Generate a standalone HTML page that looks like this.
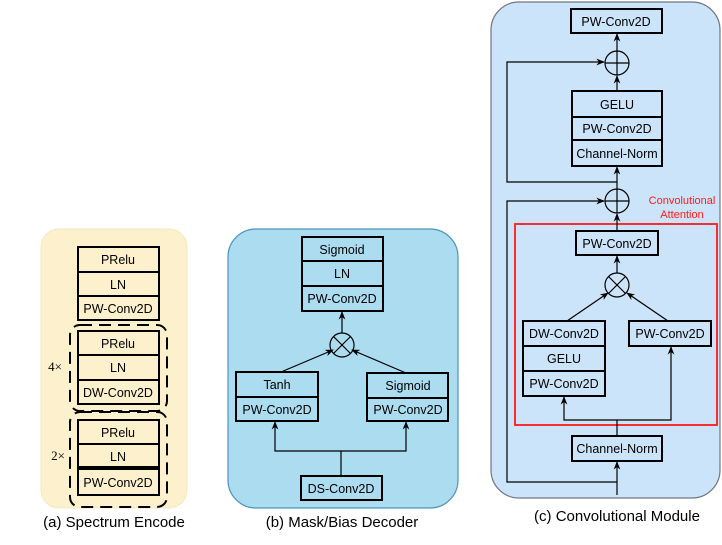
<!DOCTYPE html>
<html><head><meta charset="utf-8"><style>
html,body{margin:0;padding:0;background:#fff;}
svg text{font-family:"Liberation Sans",sans-serif;}
</style></head><body>
<svg width="722" height="540" viewBox="0 0 722 540" xmlns="http://www.w3.org/2000/svg">
<defs>
<marker id="ar" viewBox="0 0 10 10" refX="9" refY="5" markerWidth="7" markerHeight="7" orient="auto-start-reverse">
<path d="M0,1 L10,5 L0,9 L3,5 z" fill="#000"/></marker>
</defs>
<g font-size="12.5" text-anchor="middle" fill="#000">
<!-- Panel a -->
<rect x="41" y="229" width="146" height="279" rx="18" fill="#fdf0cc" stroke="#f3e8c4"/>
<g fill="none" stroke="#000" stroke-width="2">
<rect x="78" y="247" width="81" height="73"/><line x1="78" y1="272" x2="159" y2="272"/><line x1="78" y1="296" x2="159" y2="296"/>
<rect x="78" y="331" width="81" height="73"/><line x1="78" y1="355" x2="159" y2="355"/><line x1="78" y1="380" x2="159" y2="380"/>
<rect x="78" y="420" width="81" height="75"/><line x1="78" y1="444" x2="159" y2="444"/><line x1="78" y1="467" x2="159" y2="467"/><line x1="78" y1="469" x2="159" y2="469"/>
<rect x="70" y="325" width="97" height="86" rx="10" stroke-dasharray="12,7"/>
<rect x="70" y="412" width="97" height="95" rx="10" stroke-dasharray="12,7"/>
</g>
<text x="118" y="264">PRelu</text><text x="118" y="289">LN</text><text x="118" y="313">PW-Conv2D</text>
<text x="118" y="348">PRelu</text><text x="118" y="372">LN</text><text x="118" y="397">DW-Conv2D</text>
<text x="118" y="437">PRelu</text><text x="118" y="461">LN</text><text x="118" y="487">PW-Conv2D</text>
<text x="55" y="371" style="font-family:'Liberation Serif',serif;font-size:13px">4×</text>
<text x="58" y="460" style="font-family:'Liberation Serif',serif;font-size:13px">2×</text>
<text x="114" y="527" font-size="15">(a) Spectrum Encode</text>

<!-- Panel b -->
<rect x="228" y="229" width="230" height="279" rx="28" fill="#abdcef" stroke="#4b93bb" stroke-width="1.2"/>
<g fill="none" stroke="#000" stroke-width="2">
<rect x="302" y="237" width="81" height="74"/><line x1="302" y1="261" x2="383" y2="261"/><line x1="302" y1="286" x2="383" y2="286"/>
<rect x="236" y="372" width="82" height="49"/><line x1="236" y1="397" x2="318" y2="397"/>
<rect x="367" y="373" width="81" height="48"/><line x1="367" y1="398" x2="448" y2="398"/>
<rect x="301" y="476" width="81" height="24"/>
</g>
<g fill="none" stroke="#000" stroke-width="1.2">
<circle cx="342" cy="345" r="12"/><line x1="333.5" y1="336.5" x2="350.5" y2="353.5"/><line x1="350.5" y1="336.5" x2="333.5" y2="353.5"/>
<line x1="342" y1="333" x2="342" y2="312" marker-end="url(#ar)"/>
<line x1="281" y1="372" x2="333" y2="350" marker-end="url(#ar)"/>
<line x1="406" y1="373" x2="352" y2="350" marker-end="url(#ar)"/>
<polyline points="341,476 341,451 275,451 275,422" marker-end="url(#ar)"/>
<polyline points="341,451 406,451 406,422" marker-end="url(#ar)"/>
</g>
<text x="342" y="254">Sigmoid</text><text x="342" y="278">LN</text><text x="342" y="303">PW-Conv2D</text>
<text x="277" y="389">Tanh</text><text x="277" y="414">PW-Conv2D</text>
<text x="408" y="390">Sigmoid</text><text x="408" y="414">PW-Conv2D</text>
<text x="341" y="493">DS-Conv2D</text>
<text x="342" y="527" font-size="15">(b) Mask/Bias Decoder</text>

<!-- Panel c -->
<rect x="491" y="2" width="229" height="496" rx="28" fill="#cce4f9" stroke="#6f7780" stroke-width="1.2"/>
<rect x="515" y="224" width="202" height="201" fill="none" stroke="#ff1a1a" stroke-width="1.8"/>
<g fill="none" stroke="#000" stroke-width="2">
<rect x="571" y="9" width="91" height="24"/>
<rect x="572" y="91" width="90" height="75"/><line x1="572" y1="117" x2="662" y2="117"/><line x1="572" y1="140" x2="662" y2="140"/>
<rect x="576" y="231" width="82" height="24"/>
<rect x="523" y="321" width="82" height="75"/><line x1="523" y1="346" x2="605" y2="346"/><line x1="523" y1="371" x2="605" y2="371"/>
<rect x="629" y="321" width="82" height="25"/>
<rect x="572" y="436" width="90" height="25"/>
</g>
<g fill="none" stroke="#000" stroke-width="1.2">
<circle cx="617" cy="63" r="12"/><line x1="605" y1="63" x2="629" y2="63"/><line x1="617" y1="51" x2="617" y2="75"/>
<circle cx="617" cy="201" r="12"/><line x1="605" y1="201" x2="629" y2="201"/><line x1="617" y1="189" x2="617" y2="213"/>
<circle cx="617" cy="285" r="12"/><line x1="608.5" y1="276.5" x2="625.5" y2="293.5"/><line x1="625.5" y1="276.5" x2="608.5" y2="293.5"/>
<line x1="617" y1="51" x2="617" y2="34" marker-end="url(#ar)"/>
<line x1="617" y1="91" x2="617" y2="76" marker-end="url(#ar)"/>
<line x1="617" y1="189" x2="617" y2="167" marker-end="url(#ar)"/>
<line x1="617" y1="231" x2="617" y2="214" marker-end="url(#ar)"/>
<line x1="617" y1="273" x2="617" y2="256" marker-end="url(#ar)"/>
<polyline points="617,182 507,182 507,62 604,62" marker-end="url(#ar)"/>
<polyline points="617,482 507,482 507,201 604,201" marker-end="url(#ar)"/>
<line x1="567" y1="321" x2="608" y2="293" marker-end="url(#ar)"/>
<line x1="668" y1="321" x2="627" y2="293" marker-end="url(#ar)"/>
<polyline points="617,436 617,420 564,420 564,397" marker-end="url(#ar)"/>
<polyline points="617,420 671,420 671,347" marker-end="url(#ar)"/>
<line x1="617" y1="495" x2="617" y2="462" marker-end="url(#ar)"/>
</g>
<text x="616" y="26">PW-Conv2D</text>
<text x="617" y="109">GELU</text><text x="617" y="133">PW-Conv2D</text><text x="617" y="158">Channel-Norm</text>
<text x="617" y="248">PW-Conv2D</text>
<text x="564" y="338">DW-Conv2D</text><text x="564" y="363">GELU</text><text x="564" y="388">PW-Conv2D</text>
<text x="670" y="338">PW-Conv2D</text>
<text x="617" y="453">Channel-Norm</text>
<text x="682" y="204" fill="#ff1a1a" font-size="11">Convolutional</text>
<text x="682" y="218" fill="#ff1a1a" font-size="11">Attention</text>
<text x="617" y="521" font-size="15">(c)  Convolutional Module</text>
</g>
</svg>
</body></html>
